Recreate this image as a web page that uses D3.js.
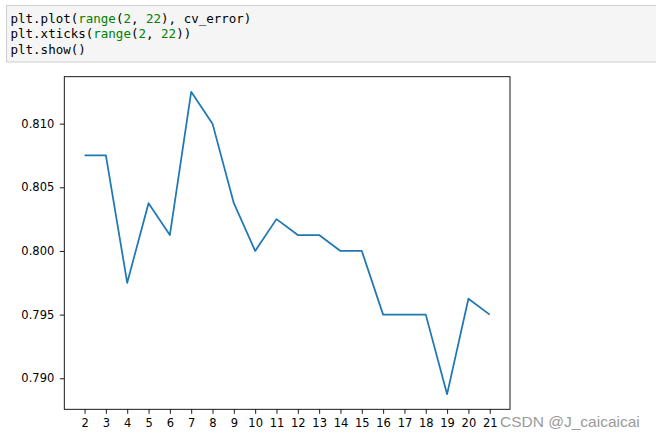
<!DOCTYPE html>
<html>
<head>
<meta charset="utf-8">
<script src="https://cdn.jsdelivr.net/npm/d3@7"></script>
<style>
    body { margin: 0; background: #fff; }
    svg { display: block; }
</style>
</head>
<body>
<svg id="chart" width="656" height="439"></svg>
<script>
// values
const kValues = d3.range(2, 22);
const cvError = [0.8075, 0.8075, 0.7975, 0.80375, 0.80125, 0.8125, 0.81, 0.80375, 0.8, 0.8025,
                 0.80125, 0.80125, 0.8, 0.8, 0.795, 0.795, 0.795, 0.78875, 0.79625, 0.795];
const yTicks = [0.790, 0.795, 0.800, 0.805, 0.810];

// notebook code cell, split into coloured pieces
const codeLines = [
    [["plt.plot(", "k"], ["range", "g"], ["(", "k"], ["2", "g"], [", ", "k"], ["22", "g"], ["), cv_error)", "k"]],
    [["plt.xticks(", "k"], ["range", "g"], ["(", "k"], ["2", "g"], [", ", "k"], ["22", "g"], ["))", "k"]],
    [["plt.show()", "k"]]
];

const svg = d3.select("#chart");

// code cell box
svg.append("rect")
    .attr("x", 6.5).attr("y", 5.5)
    .attr("width", 660).attr("height", 56.5)
    .attr("fill", "#f5f5f5")
    .attr("stroke", "#cfcfcf")
    .attr("stroke-width", 1);

const codeText = svg.append("g")
    .attr("font-family", "'DejaVu Sans Mono', monospace")
    .attr("font-size", 12.5);

codeLines.forEach((line, i) => {
    const t = codeText.append("text")
        .attr("x", 10.5)
        .attr("y", 22.5 + i * 15.5)
        .attr("xml:space", "preserve");
    line.forEach(([s, c]) => {
        t.append("tspan")
            .attr("fill", c === "g" ? "#008000" : "#000")
            .text(s);
    });
});

// plot area
const plot = {left: 64.3, right: 510, top: 76.7, bottom: 409.3};

// matplotlib style 5% margins
const xPad = (d3.max(kValues) - d3.min(kValues)) * 0.05;
const x = d3.scaleLinear()
    .domain([d3.min(kValues) - xPad, d3.max(kValues) + xPad])
    .range([plot.left, plot.right]);

const yMin = d3.min(cvError), yMax = d3.max(cvError);
const yPad = (yMax - yMin) * 0.05;
const y = d3.scaleLinear()
    .domain([yMin - yPad, yMax + yPad])
    .range([plot.bottom, plot.top]);

const xAxis = svg.append("g")
    .attr("transform", `translate(0,${plot.bottom})`)
    .call(d3.axisBottom(x).tickValues(kValues).tickFormat(d3.format("d"))
        .tickSize(4.5).tickPadding(5.5).tickSizeOuter(0));

const yAxis = svg.append("g")
    .attr("transform", `translate(${plot.left},0)`)
    .call(d3.axisLeft(y).tickValues(yTicks).tickFormat(d3.format(".3f"))
        .tickSize(4.5).tickPadding(5.5).tickSizeOuter(0));

[xAxis, yAxis].forEach(a => {
    a.select(".domain").remove();
    a.selectAll("line").attr("stroke", "#000").attr("stroke-width", 0.9);
    a.selectAll("text")
        .attr("fill", "#000")
        .attr("font-family", "'DejaVu Sans', sans-serif")
        .attr("font-size", 11.5);
});

// line
svg.append("path")
    .datum(kValues.map((k, i) => [k, cvError[i]]))
    .attr("fill", "none")
    .attr("stroke", "#1f77b4")
    .attr("stroke-width", 1.75)
    .attr("stroke-linejoin", "round")
    .attr("d", d3.line().x(d => x(d[0])).y(d => y(d[1])));

// spines
svg.append("rect")
    .attr("x", plot.left).attr("y", plot.top)
    .attr("width", plot.right - plot.left).attr("height", plot.bottom - plot.top)
    .attr("fill", "none")
    .attr("stroke", "#000")
    .attr("stroke-width", 0.9);

// watermark
svg.append("text")
    .attr("x", 500)
    .attr("y", 426.5)
    .attr("font-family", "'Liberation Sans', Arial, sans-serif")
    .attr("font-size", 15.5)
    .attr("fill", "#9a9a9a")
    .text("CSDN @J_caicaicai");
</script>
</body>
</html>
